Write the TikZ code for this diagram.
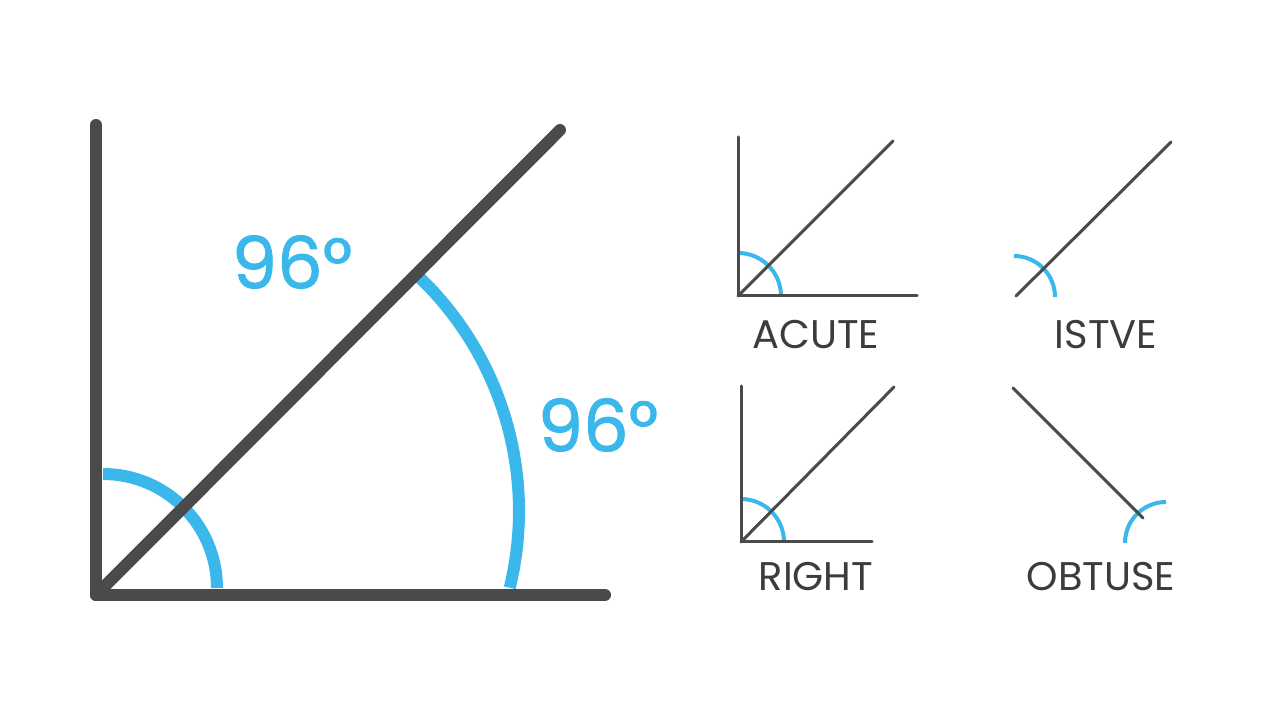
\documentclass[tikz,border=0pt]{standalone}
\usepackage{fontspec}
\setmainfont{Poppins}
\newfontfamily\degfont[FakeBold=1.2]{Poppins}
\definecolor{ink}{HTML}{4A4A4A}
\definecolor{txt}{HTML}{3C3C3C}
\definecolor{sky}{HTML}{3AB8EC}
\tikzset{
  bigline/.style={draw=ink,line width=12pt,line cap=round,line join=round},
  bigarc/.style={draw=sky,line width=12pt},
  thin/.style={draw=ink,line width=3pt,line cap=round},
  smallarc/.style={draw=sky,line width=4pt},
  deg/.style={text=sky,font=\degfont\fontsize{72}{80}\selectfont,inner sep=0pt},
  lbl/.style={text=txt,font=\fontsize{40}{44}\selectfont,inner sep=0pt}
}
\begin{document}
\begin{tikzpicture}[x=1pt,y=1pt]
\useasboundingbox[fill=white] (0,0) rectangle (1280,720);
% main figure
\draw[bigarc] (103,246) arc[start angle=90,end angle=0,radius=114];
\draw[bigarc] ({195+324*cos(46)},{209+324*sin(46)}) arc[start angle=46,end angle=-13.7,radius=324];
\draw[bigline] (96,595) -- (96,125) -- (605,125);
\draw[bigline] (96,125) -- (560,590);
\node[deg] (d1) at (292,458) {96°};
\node[deg] (d2) at (598,295) {96°};
% acute
\draw[smallarc] (738,467) arc[start angle=90,end angle=0,radius=43];
\draw[thin] (738,583) -- (738,424) -- (917,424);
\draw[thin] (738,424) -- (893,579);
\node[lbl] (acute) at (816,385) {ACUTE};
% istve
\draw[smallarc] (1014,464) arc[start angle=90,end angle=0,radius=41];
\draw[thin] (1016,424) -- (1171,578);
\node[lbl] (istve) at (1106,385) {ISTVE};
% right
\draw[smallarc] (741,221) arc[start angle=90,end angle=0,radius=43];
\draw[thin] (741,334) -- (741,178) -- (872,178);
\draw[thin] (741,178) -- (894,333);
\node[lbl] (right) at (816,143) {RIGHT};
% obtuse
\draw[smallarc] (1125,177) arc[start angle=180,end angle=90,radius=41];
\draw[thin] (1013,332) -- (1143,202);
\node[lbl] (obtuse) at (1101,143) {OBTUSE};
\end{tikzpicture}
\end{document}
